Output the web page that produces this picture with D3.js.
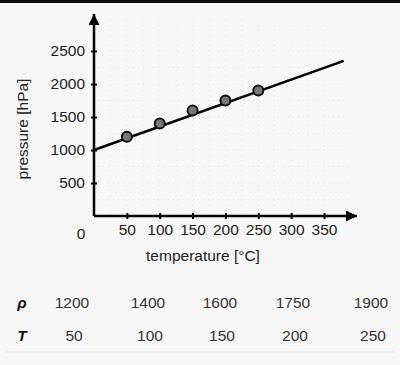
<!DOCTYPE html>
<html>
<head>
<meta charset="utf-8">
<script src="https://cdn.jsdelivr.net/npm/d3@7"></script>
<style>
  html, body { margin: 0; padding: 0; background: #f7f7f7; }
  svg { display: block; font-family: Arial, "Liberation Sans", sans-serif; }
</style>
</head>
<body>
<div id="chart"></div>
<script>
// measured points (temperature in °C, pressure in hPa)
const temperatures = [50, 100, 150, 200, 250];
const pressures = [1200, 1400, 1600, 1750, 1900];

// straight fit line drawn through the points
const fitTemps = [0, 380];
const fitPressures = [1000, 2350];

const xTicks = [50, 100, 150, 200, 250, 300, 350];
const yTicks = [500, 1000, 1500, 2000, 2500];

// value table below the chart
const tableRowLabels = ["ρ", "T"];
const tableColumns = [72, 148, 220, 293, 371];

const width = 400, height = 365;
const fontSize = 15.5;

const svg = d3.select("#chart").append("svg")
    .attr("width", width)
    .attr("height", height);

svg.append("rect")
    .attr("width", width).attr("height", height)
    .attr("fill", "#f7f7f7");

// black strip at the very top
svg.append("rect")
    .attr("width", width).attr("height", 3)
    .attr("fill", "#111");

const x = d3.scaleLinear().domain([0, 350]).range([94, 324]);
const y = d3.scaleLinear().domain([0, 2500]).range([216, 51]);

// faint dotted background grid
const grid = svg.append("g").attr("stroke", "#e8e8e8").attr("stroke-dasharray", "1,4");
grid.selectAll("line.gx")
    .data(d3.range(25, 375, 25))
    .join("line")
    .attr("x1", d => x(d)).attr("x2", d => x(d))
    .attr("y1", 20).attr("y2", 212);
grid.selectAll("line.gy")
    .data(d3.range(250, 2750, 250))
    .join("line")
    .attr("y1", d => y(d)).attr("y2", d => y(d))
    .attr("x1", 98).attr("x2", 350);

// arrow marker for the axes
svg.append("defs").append("marker")
    .attr("id", "arrow")
    .attr("viewBox", "0 0 10 10")
    .attr("refX", 10).attr("refY", 5)
    .attr("markerWidth", 14).attr("markerHeight", 11)
    .attr("markerUnits", "userSpaceOnUse")
    .attr("orient", "auto")
    .append("path")
    .attr("d", "M0,0 L10,5 L0,10 Z")
    .attr("fill", "#000");

// axis lines with arrows
svg.append("line")
    .attr("x1", x(0)).attr("y1", y(0))
    .attr("x2", x(0)).attr("y2", 14)
    .attr("stroke", "#000").attr("stroke-width", 2.5)
    .attr("marker-end", "url(#arrow)");

svg.append("line")
    .attr("x1", x(0)).attr("y1", y(0))
    .attr("x2", 357).attr("y2", y(0))
    .attr("stroke", "#000").attr("stroke-width", 2.5)
    .attr("marker-end", "url(#arrow)");

// tick marks and labels via d3 axes
const xAxis = d3.axisBottom(x).tickValues(xTicks).tickFormat(d3.format("d")).tickSize(3).tickPadding(5);
const yAxis = d3.axisLeft(y).tickValues(yTicks).tickFormat(d3.format("d")).tickSize(3).tickPadding(6);

const gx = svg.append("g")
    .attr("transform", `translate(0,${y(0)})`)
    .call(xAxis);
const gy = svg.append("g")
    .attr("transform", `translate(${x(0)},0)`)
    .call(yAxis);

[gx, gy].forEach(g => {
    g.select(".domain").remove();
    g.selectAll("text")
        .attr("font-size", fontSize)
        .attr("font-family", "Arial, 'Liberation Sans', sans-serif")
        .attr("fill", "#222");
});
gx.selectAll(".tick line").attr("y1", -3).attr("y2", 3).attr("stroke", "#000").attr("stroke-width", 2);
gy.selectAll(".tick line").attr("x1", -3).attr("x2", 3).attr("stroke", "#000").attr("stroke-width", 2);

// origin label
svg.append("text")
    .attr("x", 81).attr("y", 239)
    .attr("text-anchor", "middle")
    .attr("font-size", fontSize).attr("fill", "#222")
    .text("0");

// axis titles
svg.append("text")
    .attr("x", 203).attr("y", 261)
    .attr("text-anchor", "middle")
    .attr("font-size", fontSize).attr("fill", "#222")
    .text("temperature [°C]");

svg.append("text")
    .attr("transform", "translate(28,129) rotate(-90)")
    .attr("text-anchor", "middle")
    .attr("font-size", fontSize).attr("fill", "#222")
    .text("pressure [hPa]");

// fit line
const line = d3.line().x(d => x(d[0])).y(d => y(d[1]));
svg.append("path")
    .datum(d3.zip(fitTemps, fitPressures))
    .attr("d", line)
    .attr("fill", "none")
    .attr("stroke", "#000")
    .attr("stroke-width", 2.5);

// data points
svg.selectAll("circle.pt")
    .data(d3.zip(temperatures, pressures))
    .join("circle")
    .attr("class", "pt")
    .attr("cx", d => x(d[0]))
    .attr("cy", d => y(d[1]))
    .attr("r", 5)
    .attr("fill", "#777")
    .attr("stroke", "#111")
    .attr("stroke-width", 2);

// table
const rowY = [308, 341];
svg.selectAll("text.rowlabel")
    .data(tableRowLabels)
    .join("text")
    .attr("class", "rowlabel")
    .attr("x", 22).attr("y", (d, i) => rowY[i])
    .attr("text-anchor", "middle")
    .attr("font-size", fontSize)
    .attr("font-weight", "bold")
    .attr("font-style", "italic")
    .attr("fill", "#111")
    .text(d => d);

const rows = [pressures, temperatures];
rows.forEach((vals, r) => {
    svg.selectAll(`text.row${r}`)
        .data(vals)
        .join("text")
        .attr("class", `row${r}`)
        .attr("x", (d, i) => tableColumns[i] + (r === 1 ? 2 : 0))
        .attr("y", rowY[r])
        .attr("text-anchor", "middle")
        .attr("font-size", fontSize)
        .attr("fill", "#333")
        .text(d => d);
});

svg.append("line")
    .attr("x1", 6).attr("x2", 394)
    .attr("y1", 352).attr("y2", 352)
    .attr("stroke", "#e6e6e6");
</script>
</body>
</html>
